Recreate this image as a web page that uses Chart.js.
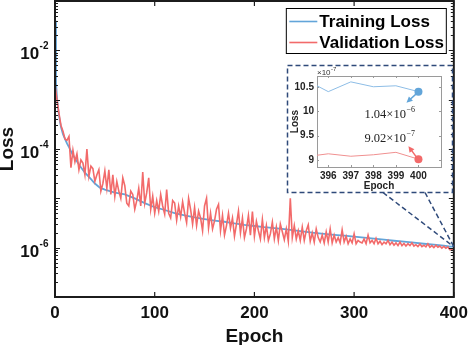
<!DOCTYPE html>
<html><head><meta charset="utf-8">
<script src="https://cdn.jsdelivr.net/npm/chart.js@4.4.0/dist/chart.umd.min.js"></script>
<style>
html,body{margin:0;padding:0;background:#fff;overflow:hidden;}
#wrap{position:relative;width:474px;height:345px;}
#main{position:absolute;left:0;top:0;}
#insetBox{position:absolute;left:289px;top:67px;width:162px;height:124px;}
</style></head><body>
<div id="wrap"><canvas id="main" width="474" height="345"></canvas>
<div id="insetBox"><canvas id="inset" width="162" height="124"></canvas></div></div>
<script>
// ---------------- data ----------------
const UNIT = 1e-6;            // main values are given in units of 1e-6
const seriesNames = ['Training Loss', 'Validation Loss'];
const trainEpochs = [0,1,2,3,4,5,6,8,10,12,14,16,18,20,25,30,35,40,45,50,
  60,70,80,90,100,110,120,130,140,150,160,170,180,190,200,210,220,230,240,250,
  260,270,280,290,300,310,320,330,340,350,360,370,380,390,395,396,397,398,399,400];
const trainLoss = [40000,2200,1100,700,480,360,280,200,160,130,110,90,75,65,45,33,26,20,16.5,15,
  13,12,10,8,6.6,5.8,5.0,4.5,4.1,3.8,3.55,3.35,3.1,2.9,2.75,2.6,2.5,2.38,2.25,2.12,
  2.0,1.9,1.82,1.75,1.68,1.6,1.52,1.45,1.38,1.32,1.26,1.2,1.15,1.1,1.064,1.04,1.06,1.05,1.052,1.04];
const valStart = 0, valStep = 2;   // validation loss read every 2 epochs
const valLoss = [
  2000,1000,520,300,230,160,150,180,42,95,
  55,80,38,60,52,30,100,28,45,40,
  22,30,38,14,20,36,16,38,12,30,
  11,22,14,10,26,18,8,7,14,12,
  6,9,16,7,34,8,13,26,6,11,
  5,9,5.5,12,7,4.8,15,5,4,9,
  8,3.6,7,4.2,8.5,5,3.2,10,6,3,
  6.5,2.8,5.5,4,2.2,7,10,2.5,5,2.4,
  3.5,6,7.5,2.2,4.5,1.8,2.8,5,2.5,4,
  1.7,3,5.5,2,4,1.6,2.4,4.5,1.8,5.4,
  1.7,3.4,2.2,1.5,3.7,1.6,2.8,1.4,1.9,3.3,
  1.5,2.6,1.4,3,2.1,1.45,2.4,1.35,10,1.6,
  2.8,1.5,2.2,1.4,2.6,1.4,2.2,2.9,1.35,2.0,
  1.3,2.4,1.6,1.3,1.8,1.25,2.1,1.3,2.4,1.25,
  1.8,1.3,1.6,1.25,2.3,1.3,1.7,1.2,1.5,1.25,
  1.9,1.2,1.4,1.3,1.25,1.5,1.2,1.8,1.25,1.4,
  1.2,1.55,1.2,1.35,1.15,1.3,1.2,1.4,1.15,1.3,
  1.12,1.25,1.1,1.3,1.1,1.22,1.08,1.2,1.1,1.25,
  1.08,1.15,1.05,1.18,1.05,1.12,1.04,1.2,1.02,1.1,
  1.0,1.12,1.02,1.08,0.98,1.06,0.97,1.04,0.913,0.911,
  0.902];
const xTicks = [0,100,200,300,400];
const yLabelExponents = [-2,-4,-6];
// inset (values in units of 1e-7)
const insetEpochs = [395,396,397,398,399,400];
const insetTrain = [10.64,10.40,10.60,10.50,10.52,10.40];
const insetVal   = [9.07,9.13,9.08,9.11,9.16,9.02];
const insetXTicks = [396,397,398,399,400];
const insetYTicks = [9,9.5,10,10.5];
const insetScaleText = ['×10','-7'];
const annotTrain = ['1.04×10','−6'];
const annotVal = ['9.02×10','−7'];

// ---------------- styles ----------------
const FONT = "'Liberation Sans', Arial, sans-serif";
const SERIF = "'Liberation Serif', 'Times New Roman', serif";
const BLUE = '#62a5d9', RED = '#f26a6a', FRAME = '#1c1c1c', NAVY = '#2f4a7a', TXT = '#111';
Chart.defaults.font.family = FONT;

function seg(ctx,x1,y1,x2,y2){ctx.beginPath();ctx.moveTo(x1,y1);ctx.lineTo(x2,y2);ctx.stroke();}
function supText(ctx, base, sup, x, y, fb, fs, rise, align){
  ctx.font = fb; const wb = ctx.measureText(base).width;
  ctx.font = fs; const ws = ctx.measureText(sup).width;
  let x0 = align === 'right' ? x - wb - ws : x;
  ctx.textAlign = 'left'; ctx.textBaseline = 'alphabetic';
  ctx.font = fb; ctx.fillText(base, x0, y);
  ctx.font = fs; ctx.fillText(sup, x0 + wb + 0.5, y - rise);
}

const mainDecor = {
  id: 'mainDecor',
  afterDatasetsDraw(chart) {
    const {ctx, chartArea: a, scales: {x, y}} = chart;
    ctx.save();
    ctx.strokeStyle = FRAME; ctx.lineWidth = 2;
    ctx.strokeRect(a.left, a.top, a.right - a.left, a.bottom - a.top);
    ctx.lineWidth = 1.2;
    xTicks.forEach(v => {
      const px = x.getPixelForValue(v);
      seg(ctx, px, a.bottom, px, a.bottom - 5);
      seg(ctx, px, a.top, px, a.top + 5);
    });
    const lo = Math.floor(Math.log10(y.min)), hi = Math.ceil(Math.log10(y.max));
    ctx.lineWidth = 1;
    for (let e = lo; e <= hi; e++) {
      for (let m = 1; m < 10; m++) {
        const v = m * Math.pow(10, e);
        if (v < y.min * 0.999 || v > y.max * 1.001) continue;
        const py = Math.round(y.getPixelForValue(v)) + 0.5;
        const L = m === 1 ? 5 : 3;
        seg(ctx, a.left, py, a.left + L, py);
        seg(ctx, a.right, py, a.right - L, py);
      }
    }
    // y labels
    ctx.fillStyle = TXT;
    yLabelExponents.forEach(ex => {
      const py = y.getPixelForValue(Math.pow(10, ex));
      supText(ctx, '10', String(ex), a.left - 7, py + 9, 'bold 17px ' + FONT, 'bold 10px ' + FONT, 10, 'right');
    });
    // legend
    const bx = a.right - 167.5, by = a.top + 7.5;
    ctx.fillStyle = '#fff'; ctx.fillRect(bx, by, 160, 45);
    ctx.strokeStyle = '#000'; ctx.lineWidth = 1; ctx.strokeRect(bx, by, 160, 45);
    [[BLUE, seriesNames[0], 13], [RED, seriesNames[1], 34]].forEach(([c, t, dy]) => {
      ctx.strokeStyle = c; ctx.lineWidth = 1.6;
      seg(ctx, bx + 3, by + dy, bx + 31, by + dy);
      ctx.fillStyle = '#000'; ctx.font = 'bold 17px ' + FONT;
      ctx.textAlign = 'left'; ctx.textBaseline = 'middle';
      ctx.fillText(t, bx + 33, by + dy + 1);
    });
    // inset box + zoom lines
    ctx.strokeStyle = NAVY; ctx.lineWidth = 1.5; ctx.setLineDash([5, 3]);
    const L0 = 287.5, R0 = 452.5, T0 = 65.5, B0 = 192.5;
    ctx.strokeRect(L0, T0, R0 - L0, B0 - T0);
    const tx = x.getPixelForValue(insetEpochs[insetEpochs.length - 1]);
    const ty = y.getPixelForValue(trainLoss[trainLoss.length - 1] * UNIT);
    seg(ctx, 383, B0, tx, ty);
    seg(ctx, 425, B0, tx, ty);
    ctx.setLineDash([]);
    ctx.restore();
  }
};

new Chart(document.getElementById('main'), {
  type: 'line',
  data: {
    datasets: [
      { label: seriesNames[1], data: valLoss.map((v, i) => ({x: valStart + i * valStep, y: v * UNIT})),
        borderColor: RED, borderWidth: 1.6, pointRadius: 0, tension: 0, order: 0 },
      { label: seriesNames[0], data: trainEpochs.map((e, i) => ({x: e, y: trainLoss[i] * UNIT})),
        borderColor: BLUE, borderWidth: 1.8, pointRadius: 0, tension: 0, order: 1 }
    ]
  },
  options: {
    responsive: false, animation: false, devicePixelRatio: 1,
    layout: {padding: {top: 1, right: 14, left: 0, bottom: 0}},
    plugins: {legend: {display: false}, tooltip: {enabled: false}},
    scales: {
      x: {
        type: 'linear', min: 0, max: 400,
        afterBuildTicks: s => { s.ticks = xTicks.map(v => ({value: v})); },
        afterFit: s => { s.height = 48; },
        grid: {display: false, drawTicks: false}, border: {display: false},
        ticks: {font: {size: 17, weight: 'bold'}, color: TXT, padding: 6, maxRotation: 0, autoSkip: false,
          callback: v => String(v)},
        title: {display: true, text: 'Epoch', color: TXT, font: {size: 19, weight: 'bold', lineHeight: 1}, padding: {top: 0, bottom: -1}}
      },
      y: {
        type: 'logarithmic', min: 1e-7, max: 1e-1,
        afterFit: s => { s.width = 55; },
        grid: {display: false, drawTicks: false}, border: {display: false},
        ticks: {display: false},
        title: {display: true, text: 'Loss', color: TXT, font: {size: 19, weight: 'bold', lineHeight: 1}, padding: {top: -2, bottom: 0}}
      }
    }
  },
  plugins: [mainDecor]
});

// ---------------- inset ----------------
function arrow(ctx, x1, y1, x2, y2, color) {
  ctx.strokeStyle = color; ctx.fillStyle = color; ctx.lineWidth = 1.5;
  const dx = x2 - x1, dy = y2 - y1, d = Math.hypot(dx, dy), ux = dx / d, uy = dy / d;
  seg(ctx, x1, y1, x2 - ux * 4, y2 - uy * 4);
  ctx.beginPath();
  ctx.moveTo(x2, y2);
  ctx.lineTo(x2 - ux * 6 - uy * 3, y2 - uy * 6 + ux * 3);
  ctx.lineTo(x2 - ux * 6 + uy * 3, y2 - uy * 6 - ux * 3);
  ctx.closePath(); ctx.fill();
}
const insetDecor = {
  id: 'insetDecor',
  beforeDatasetsDraw(chart) {
    const {ctx, chartArea: a, scales: {x, y}} = chart;
    ctx.save();
    ctx.strokeStyle = '#9a9a9a'; ctx.lineWidth = 1;
    ctx.strokeRect(Math.round(a.left) + 0.5, Math.round(a.top) + 0.5, Math.round(a.right - a.left), Math.round(a.bottom - a.top));
    insetXTicks.forEach(v => { const px = Math.round(x.getPixelForValue(v)) + 0.5;
      seg(ctx, px, a.bottom, px, a.bottom - 2); seg(ctx, px, a.top, px, a.top + 2); });
    insetYTicks.forEach(v => { const py = Math.round(y.getPixelForValue(v)) + 0.5;
      seg(ctx, a.left, py, a.left + 2, py); seg(ctx, a.right, py, a.right - 2, py); });
    ctx.restore();
  },
  afterDatasetsDraw(chart) {
    const {ctx, chartArea: a, scales: {x, y}} = chart;
    ctx.save();
    const last = insetEpochs.length - 1;
    const mx = x.getPixelForValue(insetEpochs[last]);
    const myB = y.getPixelForValue(insetTrain[last]);
    const myR = y.getPixelForValue(insetVal[last]);
    arrow(ctx, mx - 2, myB + 2, mx - 12, myB + 11, BLUE);
    arrow(ctx, mx - 2, myR - 2, mx - 10, myR - 13, RED);
    ctx.fillStyle = '#222';
    supText(ctx, annotTrain[0], annotTrain[1], mx - 54, myB + 26, '12.5px ' + SERIF, '8px ' + SERIF, 6, 'left');
    supText(ctx, annotVal[0], annotVal[1], mx - 54, myR - 17, '12.5px ' + SERIF, '8px ' + SERIF, 6, 'left');
    ctx.fillStyle = '#333';
    supText(ctx, insetScaleText[0], insetScaleText[1], a.left, a.top - 1.5, '8px ' + FONT, '6px ' + FONT, 3.5, 'left');
    ctx.restore();
  }
};
const lastIdx = c => c.dataIndex === insetEpochs.length - 1 ? 4 : 0;
new Chart(document.getElementById('inset'), {
  type: 'line',
  data: {
    datasets: [
      { data: insetEpochs.map((e, i) => ({x: e, y: insetTrain[i]})), borderColor: '#8dbde6', borderWidth: 1,
        pointRadius: lastIdx, pointBackgroundColor: BLUE, pointBorderColor: BLUE, pointBorderWidth: 0, tension: 0 },
      { data: insetEpochs.map((e, i) => ({x: e, y: insetVal[i]})), borderColor: '#f09090', borderWidth: 1,
        pointRadius: lastIdx, pointBackgroundColor: RED, pointBorderColor: RED, pointBorderWidth: 0, tension: 0 }
    ]
  },
  options: {
    responsive: false, animation: false, devicePixelRatio: 1,
    layout: {padding: {top: 8, right: 10, left: 0, bottom: 0}},
    plugins: {legend: {display: false}, tooltip: {enabled: false}},
    scales: {
      x: {
        type: 'linear', min: 395.5, max: 401,
        afterBuildTicks: s => { s.ticks = insetXTicks.map(v => ({value: v})); },
        afterFit: s => { s.height = 24; },
        grid: {display: false, drawTicks: false}, border: {display: false},
        ticks: {font: {size: 10, weight: 'bold'}, color: '#222', padding: 3, maxRotation: 0, autoSkip: false, callback: v => String(v)},
        title: {display: true, text: 'Epoch', color: '#222', font: {size: 10, weight: 'bold', lineHeight: 1}, padding: {top: 0, bottom: 0}}
      },
      y: {
        min: 8.86, max: 10.72,
        afterBuildTicks: s => { s.ticks = insetYTicks.map(v => ({value: v})); },
        afterFit: s => { s.width = 28; },
        grid: {display: false, drawTicks: false}, border: {display: false},
        ticks: {font: {size: 10, weight: 'bold'}, color: '#222', padding: 3, callback: v => String(v)},
        title: {display: true, text: 'Loss', color: '#222', font: {size: 10, weight: 'bold', lineHeight: 1}, padding: {top: 1, bottom: 0}}
      }
    }
  },
  plugins: [insetDecor]
});
</script>
</body></html>
